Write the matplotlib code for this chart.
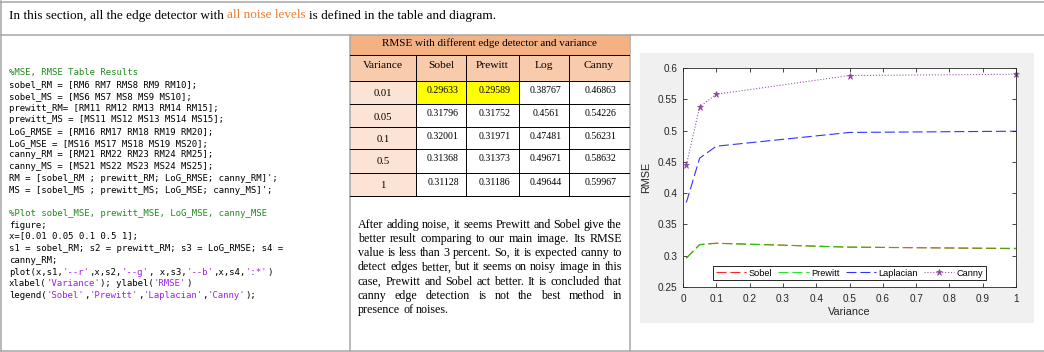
import matplotlib
matplotlib.use('Agg')
import matplotlib.pyplot as plt
from matplotlib.patches import Rectangle

W, H, DPI = 1044, 352, 100

# ---------------- data ----------------
variance = [0.01, 0.05, 0.1, 0.5, 1]
variance_labels = ['0.01', '0.05', '0.1', '0.5', '1']
table_title = 'RMSE with different edge detector and variance'
table_cols = ['Variance', 'Sobel', 'Prewitt', 'Log', 'Canny']
sobel_tab = [0.29633, 0.31796, 0.32001, 0.31368, 0.31128]
prewitt_tab = [0.29589, 0.31752, 0.31971, 0.31373, 0.31186]
log_tab = [0.38767, 0.4561, 0.47481, 0.49671, 0.49644]
canny_tab = [0.46863, 0.54226, 0.56231, 0.58632, 0.59967]

# values
sobel_rmse = [0.29633, 0.31796, 0.32001, 0.31368, 0.31128]
prewitt_rmse = [0.29589, 0.31752, 0.31971, 0.31373, 0.31186]
laplacian_rmse = [0.385, 0.456, 0.475, 0.497, 0.499]
canny_rmse = [0.445, 0.538, 0.558, 0.588, 0.590]
legend_labels = ['Sobel', 'Prewitt', 'Laplacian', 'Canny']
xticks = [0, 0.1, 0.2, 0.3, 0.4, 0.5, 0.6, 0.7, 0.8, 0.9, 1]
yticks = [0.25, 0.3, 0.35, 0.4, 0.45, 0.5, 0.55, 0.6]

intro_parts = [('In this section, all the edge detector with', 'black'),
               ('all noise levels', '#ED7D31'),
               ('is defined in the table and diagram.', 'black')]

code_lines = [
    "%MSE, RMSE Table Results",
    "sobel_RM = [RM6 RM7 RMS8 RM9 RM10];",
    "sobel_MS = [MS6 MS7 MS8 MS9 MS10];",
    "prewitt_RM= [RM11 RM12 RM13 RM14 RM15];",
    "prewitt_MS = [MS11 MS12 MS13 MS14 MS15];",
    "LoG_RMSE = [RM16 RM17 RM18 RM19 RM20];",
    "LoG_MSE = [MS16 MS17 MS18 MS19 MS20];",
    "canny_RM = [RM21 RM22 RM23 RM24 RM25];",
    "canny_MS = [MS21 MS22 MS23 MS24 MS25];",
    "RM = [sobel_RM ; prewitt_RM; LoG_RMSE; canny_RM]';",
    "MS = [sobel_MS ; prewitt_MS; LoG_MSE; canny_MS]';",
    "",
    "%Plot sobel_MSE, prewitt_MSE, LoG_MSE, canny_MSE",
    "figure;",
    "x=[0.01 0.05 0.1 0.5 1];",
    "s1 = sobel_RM; s2 = prewitt_RM; s3 = LoG_RMSE; s4 =",
    "canny_RM;",
    "plot(x,s1,'--r',x,s2,'--g', x,s3,'--b',x,s4,':*')",
    "xlabel('Variance'); ylabel('RMSE')",
    "legend('Sobel','Prewitt','Laplacian','Canny');",
]

para_lines = [
    "After adding noise, it seems Prewitt and Sobel give the",
    "better result comparing to our main image. Its RMSE",
    "value is less than 3 percent. So, it is expected canny to",
    "detect edges better, but it seems on noisy image in this",
    "case, Prewitt and Sobel act better. It is concluded that",
    "canny edge detection is not the best method in",
    "presence of noises.",
]

SERIF = 'Liberation Serif'
SANS = 'Liberation Sans'
MONO = 'DejaVu Sans Mono'

fig = plt.figure(figsize=(W / DPI, H / DPI), dpi=DPI)
fig.patch.set_facecolor('white')
ax0 = fig.add_axes([0, 0, 1, 1])
ax0.set_xlim(0, W)
ax0.set_ylim(H, 0)
ax0.axis('off')
renderer = fig.canvas.get_renderer()


def txt(x, y, s, **kw):
    return ax0.text(x, y, s, **kw)


def width(s, **kw):
    t = ax0.text(0, 0, s, **kw)
    w = t.get_window_extent(renderer).width
    t.remove()
    return w


def fit(s, family, target, base=8.0):
    return base * target / width(s, family=family, fontsize=base)


def space_w(family, fs):
    return width('a a', family=family, fontsize=fs) - width('aa', family=family, fontsize=fs)

# ---------------- document frame ----------------
gc = '#A6A6A6'
glw = 1.1
ax0.plot([0, W], [1.5, 1.5], color=gc, lw=glw)
ax0.plot([0, W], [34.5, 34.5], color=gc, lw=glw)
ax0.plot([0, W], [350.5, 350.5], color=gc, lw=glw)
ax0.plot([1, 1], [1, 351], color=gc, lw=glw)
ax0.plot([350, 350], [34.5, 351], color=gc, lw=glw)
ax0.plot([629.5, 629.5], [34.5, 351], color=gc, lw=glw)

# ---------------- intro sentence ----------------
full_intro = ' '.join(s for s, _ in intro_parts)
fs_intro = fit(full_intro, SERIF, 486)
sp = space_w(SERIF, fs_intro)
x = 9
for s, c in intro_parts:
    t = txt(x, 18.5, s, family=SERIF, fontsize=fs_intro, color=c, va='baseline', ha='left')
    x += t.get_window_extent(renderer).width + sp

# ---------------- code ----------------
fs_code = 6.5
cw = width('M' * 40, family=MONO, fontsize=fs_code) / 40
green = '#228B22'
purple = '#A020F0'


def segments(line):
    if line.strip().startswith('%'):
        return [(line, green)]
    segs, cur, in_str, prev = [], '', False, ''
    for ch in line:
        if in_str:
            cur += ch
            if ch == "'":
                segs.append((cur, purple))
                cur, in_str = '', False
        else:
            if ch == "'" and not (prev.isalnum() or prev in "_])'"):
                if cur:
                    segs.append((cur, 'black'))
                cur, in_str = ch, True
            else:
                cur += ch
        prev = ch
    if cur:
        segs.append((cur, purple if in_str else 'black'))
    return segs


for i, line in enumerate(code_lines):
    y = 72.2 + i * 11.72 + 3.2
    col = 0
    for s, c in segments(line):
        txt(9 + col * cw, y, s, family=MONO, fontsize=fs_code, color=c,
            va='baseline', ha='left')
        col += len(s)

# ---------------- table ----------------
tx0, tx1 = 350, 628.5
col_edges = [350, 416, 466, 519, 569, 628.5]
row_edges = [34.5, 55, 81, 104, 127, 149, 173, 196]
ax0.add_patch(Rectangle((tx0, row_edges[0]), tx1 - tx0, row_edges[1] - row_edges[0],
                        color='#F4B183', lw=0))
ax0.add_patch(Rectangle((tx0, row_edges[1]), tx1 - tx0, row_edges[2] - row_edges[1],
                        color='#F8CBAD', lw=0))
for r in range(5):
    ax0.add_patch(Rectangle((col_edges[0], row_edges[r + 2]), col_edges[1] - col_edges[0],
                            row_edges[r + 3] - row_edges[r + 2], color='#FBE4D5', lw=0))
# yellow highlights (best values at 0.01)
ax0.add_patch(Rectangle((col_edges[1] + 0.5, row_edges[2] + 0.5), col_edges[3] - col_edges[1] - 1,
                        row_edges[3] - row_edges[2] - 1, color='#FFFF00', lw=0))
for yy in row_edges[1:]:
    ax0.plot([tx0, tx1], [yy, yy], color='black', lw=0.7)
for xx in col_edges[1:-1]:
    ax0.plot([xx, xx], [row_edges[1], row_edges[-1]], color='black', lw=0.7)

fs_title = fit(table_title, SERIF, 215)
txt((tx0 + tx1) / 2, 46, table_title, family=SERIF, fontsize=fs_title, va='baseline', ha='center')
fs_head = fit('Variance', SERIF, 40)
for j, name in enumerate(table_cols):
    cx = (col_edges[j] + col_edges[j + 1]) / 2
    txt(cx, 68, name, family=SERIF, fontsize=fs_head, va='baseline', ha='center')
fs_var = 7.7
fs_num = 7.1
cols_vals = [sobel_tab, prewitt_tab, log_tab, canny_tab]
for r in range(5):
    top = row_edges[r + 2]
    cx = (col_edges[0] + col_edges[1]) / 2
    txt(cx, top + 15.5, variance_labels[r], family=SERIF, fontsize=fs_var, va='baseline', ha='center')
    for j, vals in enumerate(cols_vals):
        cx = (col_edges[j + 1] + col_edges[j + 2]) / 2 + 2
        txt(cx, top + 12, str(vals[r]), family=SERIF, fontsize=fs_num, va='baseline', ha='center')

# ---------------- paragraph (justified) ----------------
px0, px1 = 358, 622
fs_p = fit(para_lines[0], SERIF, px1 - px0 - 1)
spw = space_w(SERIF, fs_p)
for i, line in enumerate(para_lines):
    y = 224 + i * 14.2 + 3.8
    words = line.split(' ')
    ws = [width(w, family=SERIF, fontsize=fs_p) for w in words]
    if i < len(para_lines) - 1 and len(words) > 1:
        gap = (px1 - px0 - sum(ws)) / (len(words) - 1)
    else:
        gap = spw
    x = px0
    for w, wd in zip(words, ws):
        txt(x, y, w, family=SERIF, fontsize=fs_p, va='baseline', ha='left')
        x += wd + gap

# ---------------- chart ----------------
ax0.add_patch(Rectangle((640, 53), 1034 - 640, 323 - 53, color='#F0F0F0', lw=0, zorder=0))
ax = fig.add_axes([683 / W, (H - 287) / H, (1016 - 683) / W, (287 - 68) / H])
ax.set_facecolor('white')
dash = (9, 3.5)
l1, = ax.plot(variance, sobel_rmse, color='#FF0000', lw=0.8, alpha=0.85)
l1.set_dashes(dash)
l2, = ax.plot(variance, prewitt_rmse, color='#00E000', lw=0.8, alpha=0.85)
l2.set_dashes(dash)
l3, = ax.plot(variance, laplacian_rmse, color='#0000FF', lw=0.8, alpha=0.8)
l3.set_dashes(dash)
l4, = ax.plot(variance, canny_rmse, color='#7E2F8E', lw=0.8, ls=':', alpha=0.8,
              marker='*', markersize=5, markerfacecolor='#7E2F8E',
              markeredgecolor='#7E2F8E', markeredgewidth=0.5, clip_on=False)
ax.set_xlim(0, 1)
ax.set_ylim(0.25, 0.6)
ax.set_xticks(xticks)
ax.set_xticklabels(['%g' % v for v in xticks])
ax.set_yticks(yticks)
ax.set_yticklabels(['%g' % v for v in yticks])
for sp_ in ax.spines.values():
    sp_.set_color('#262626')
    sp_.set_linewidth(0.6)
ax.tick_params(direction='in', length=3, width=0.6, top=True, right=True,
               colors='#262626', labelsize=7.2)
ax.tick_params(axis='x', pad=5)
ax.tick_params(axis='y', pad=4)
for lab in ax.get_xticklabels() + ax.get_yticklabels():
    lab.set_family(SANS)
ax.set_xlabel('Variance', family=SANS, fontsize=7.8, color='#262626', labelpad=2)
ax.set_ylabel('RMSE', family=SANS, fontsize=7.8, color='#262626', labelpad=5)
leg = ax.legend([l1, l2, l3, l4], legend_labels, ncol=4, loc='lower center',
                bbox_to_anchor=(0.5, 0.032), borderaxespad=0,
                prop={'family': SANS, 'size': 6.6}, frameon=True, fancybox=False,
                edgecolor='black', framealpha=1, borderpad=0.25, handlelength=3.3,
                handletextpad=0.25, columnspacing=0.7)
leg.get_frame().set_linewidth(0.6)

fig.savefig('out.png', dpi=DPI)
